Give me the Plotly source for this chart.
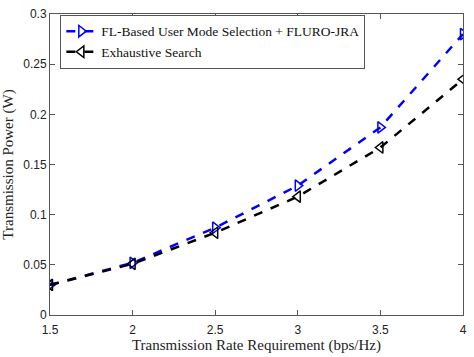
import plotly.graph_objects as go

rates = [1.5, 2, 2.5, 3, 3.5, 4]
fl_power = [0.030, 0.052, 0.087, 0.129, 0.187, 0.280]
es_power = [0.030, 0.051, 0.082, 0.118, 0.167, 0.235]
x_ticks = [1.5, 2, 2.5, 3, 3.5, 4]
x_tick_labels = ["1.5", "2", "2.5", "3", "3.5", "4"]
y_ticks = [0, 0.05, 0.1, 0.15, 0.2, 0.25, 0.3]
y_tick_labels = ["0", "0.05", "0.1", "0.15", "0.2", "0.25", "0.3"]

fig = go.Figure()
fig.add_trace(go.Scatter(
    x=rates, y=fl_power, mode="lines+markers",
    name="FL-Based User Mode Selection + FLURO-JRA",
    line=dict(color="#0000ff", width=2.5, dash="dash"),
    marker=dict(symbol="triangle-right-open", size=10, color="#0000ff", line=dict(width=1.5)),
))
fig.add_trace(go.Scatter(
    x=rates, y=es_power, mode="lines+markers",
    name="Exhaustive Search",
    line=dict(color="#000000", width=2.5, dash="dash"),
    marker=dict(symbol="triangle-left-open", size=10, color="#000000", line=dict(width=1.5)),
))

axis_common = dict(
    showline=True, linecolor="#555555", linewidth=1, mirror="ticks",
    ticks="inside", ticklen=5, tickcolor="#555555", showgrid=False, zeroline=False,
    tickfont=dict(family="Liberation Sans, Arial", size=12, color="#222222"),
)
fig.update_xaxes(
    range=[1.5, 4.0001], tickvals=x_ticks, ticktext=x_tick_labels,
    ticklabelstandoff=4,
    title=dict(text="Transmission Rate Requirement (bps/Hz)", standoff=2,
               font=dict(family="Liberation Serif, Times New Roman", size=15, color="#222222")),
    **axis_common,
)
fig.update_yaxes(
    range=[0, 0.30005], tickvals=y_ticks, ticktext=y_tick_labels,
    title=dict(text="Transmission Power (W)", standoff=6,
               font=dict(family="Liberation Serif, Times New Roman", size=15, color="#222222")),
    **axis_common,
)
fig.update_layout(
    width=474, height=357,
    margin=dict(l=45, r=8, t=7, b=39),
    plot_bgcolor="white", paper_bgcolor="white",
    legend=dict(
        x=0.025, y=0.997, xanchor="left", yanchor="top",
        bgcolor="white", bordercolor="#555555", borderwidth=1,
        font=dict(family="Liberation Serif, Times New Roman", size=13.5, color="#111111"),
        tracegroupgap=0, itemwidth=30,
    ),
)
fig.write_html("out.html", config={"displayModeBar": False},
               post_script="document.body.style.margin='0';")
